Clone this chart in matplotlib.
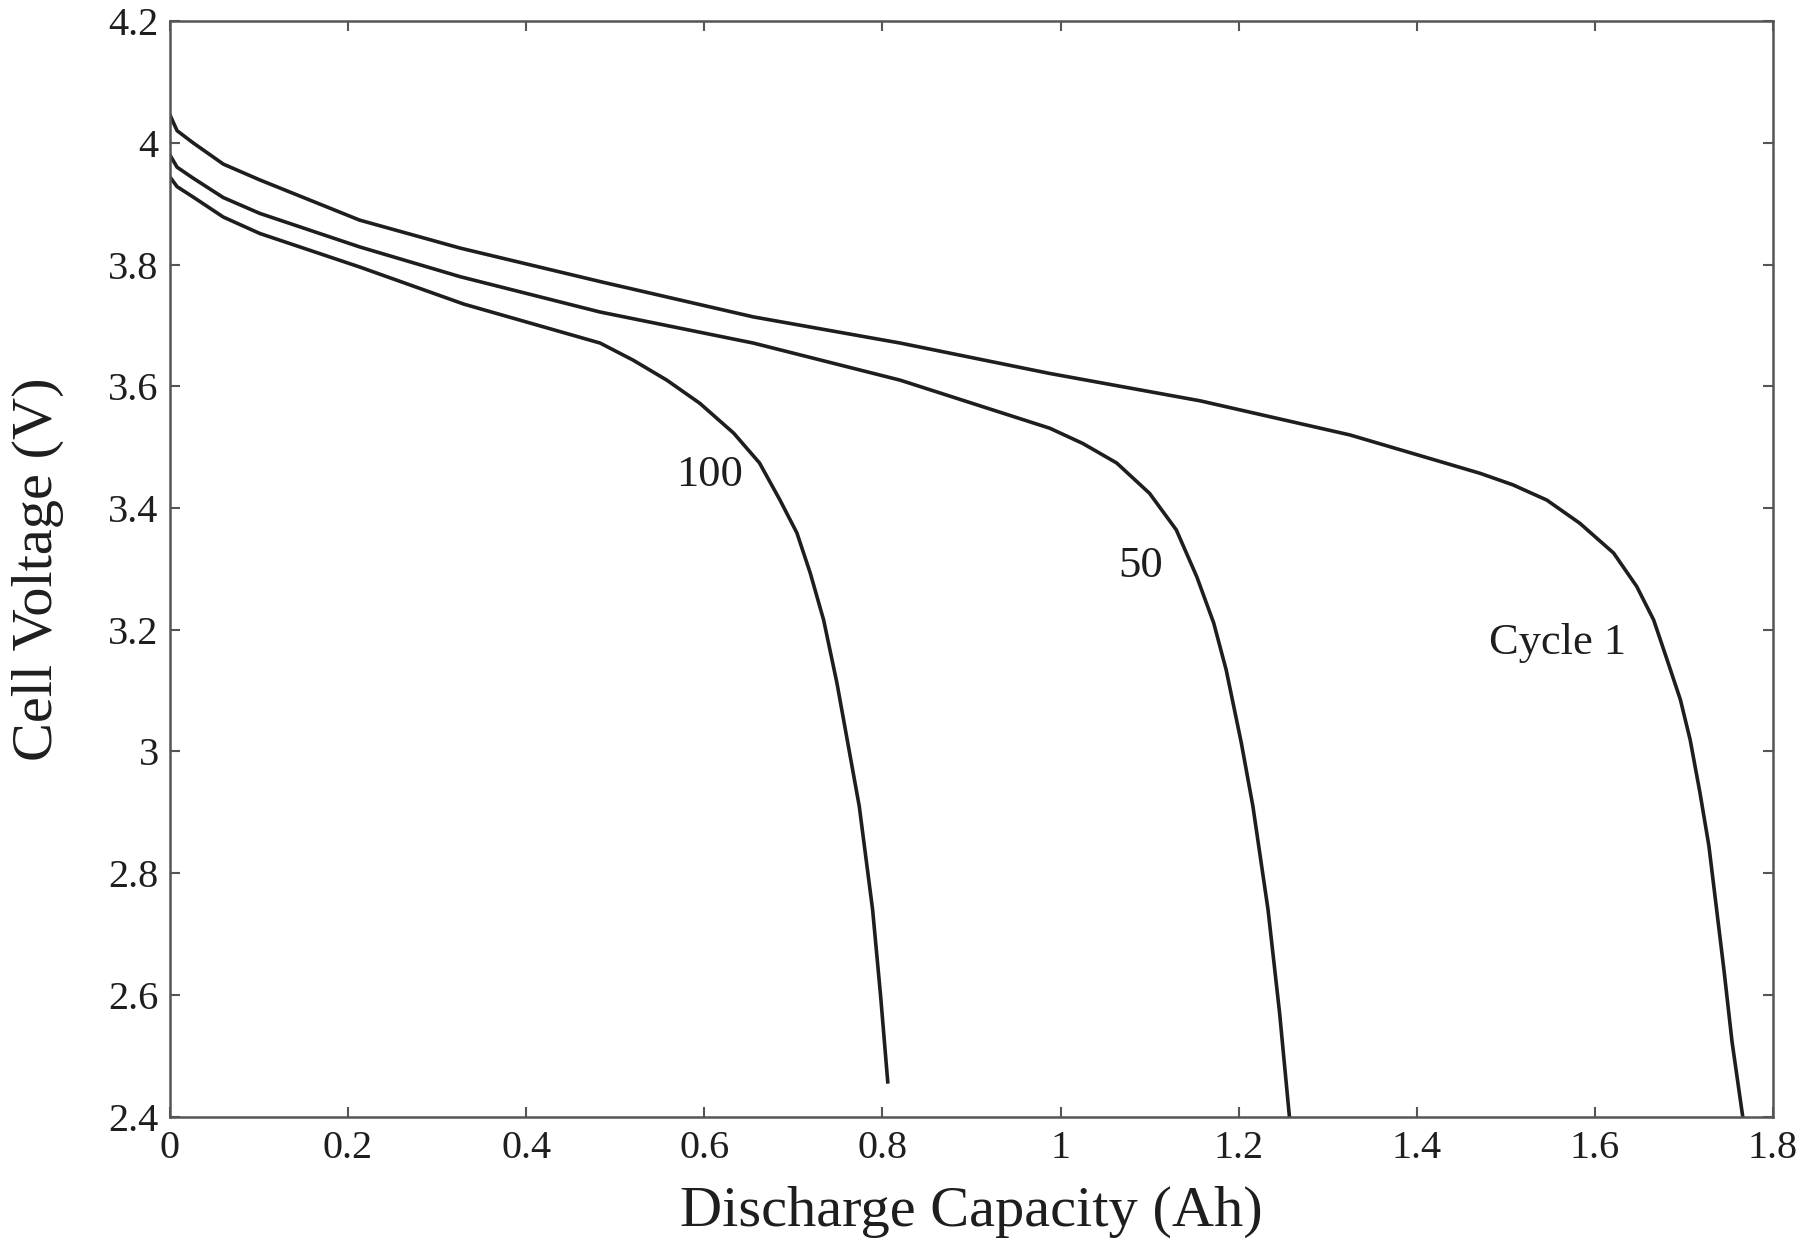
import matplotlib
matplotlib.use("Agg")
import matplotlib.pyplot as plt

plt.rcParams['font.family'] = ['Liberation Serif', 'DejaVu Serif']

# discharge curves (capacity in Ah, voltage in V)
cap_cycle1 = [0.0, 0.008, 0.026, 0.060, 0.101, 0.213, 0.326, 0.486, 0.655, 0.820,
              0.988, 1.157, 1.325, 1.471, 1.508, 1.546, 1.583, 1.621, 1.647,
              1.666, 1.681, 1.696, 1.707, 1.718, 1.728, 1.745, 1.754, 1.766]
volt_cycle1 = [4.046, 4.020, 4.000, 3.965, 3.939, 3.873, 3.827, 3.771, 3.714, 3.671,
               3.621, 3.576, 3.520, 3.457, 3.438, 3.413, 3.375, 3.326, 3.271,
               3.216, 3.151, 3.085, 3.019, 2.932, 2.845, 2.640, 2.523, 2.400]

cap_cycle50 = [0.0, 0.008, 0.026, 0.060, 0.101, 0.213, 0.326, 0.483, 0.655, 0.820,
               0.988, 1.025, 1.063, 1.100, 1.130, 1.153, 1.172, 1.186, 1.203,
               1.216, 1.233, 1.246, 1.257]
volt_cycle50 = [3.980, 3.960, 3.942, 3.910, 3.884, 3.829, 3.780, 3.722, 3.671, 3.610,
                3.531, 3.506, 3.474, 3.424, 3.364, 3.287, 3.211, 3.134, 3.014,
                2.910, 2.740, 2.570, 2.400]

cap_cycle100 = [0.0, 0.008, 0.026, 0.060, 0.101, 0.213, 0.330, 0.483, 0.520, 0.558,
                0.595, 0.633, 0.662, 0.685, 0.704, 0.719, 0.734, 0.749, 0.774,
                0.789, 0.798, 0.806]
volt_cycle100 = [3.944, 3.928, 3.911, 3.878, 3.851, 3.796, 3.735, 3.671, 3.643, 3.610,
                 3.572, 3.523, 3.474, 3.413, 3.359, 3.293, 3.216, 3.112, 2.910,
                 2.740, 2.598, 2.457]

labels = ['Cycle 1', '50', '100']
label_pos = [(1.558, 3.178), (1.090, 3.304), (0.606, 3.454)]

xticks = [0, 0.2, 0.4, 0.6, 0.8, 1, 1.2, 1.4, 1.6, 1.8]
xticklabels = ['0', '0.2', '0.4', '0.6', '0.8', '1', '1.2', '1.4', '1.6', '1.8']
yticks = [2.4, 2.6, 2.8, 3, 3.2, 3.4, 3.6, 3.8, 4, 4.2]
yticklabels = ['2.4', '2.6', '2.8', '3', '3.2', '3.4', '3.6', '3.8', '4', '4.2']

fig = plt.figure(figsize=(18, 12.42), dpi=100)
ax = fig.add_axes([0.0944, 0.101, 0.8906, 0.882])

line_kw = dict(color='#1e1e1e', linewidth=2.6, solid_joinstyle='round')
ax.plot(cap_cycle1, volt_cycle1, **line_kw)
ax.plot(cap_cycle50, volt_cycle50, **line_kw)
ax.plot(cap_cycle100, volt_cycle100, **line_kw)

for txt, (lx, ly) in zip(labels, label_pos):
    ax.text(lx, ly, txt, fontsize=32, ha='center', va='center', color='#1e1e1e')

ax.set_xlim(0, 1.8)
ax.set_ylim(2.4, 4.2)
ax.set_xticks(xticks)
ax.set_xticklabels(xticklabels)
ax.set_yticks(yticks)
ax.set_yticklabels(yticklabels)

ax.tick_params(direction='in', length=7, width=1.5, color='#555555',
               labelsize=29, top=True, right=True, labelcolor='#1e1e1e')
ax.tick_params(axis='x', pad=10)
ax.tick_params(axis='y', pad=8)
for sp in ax.spines.values():
    sp.set_color('#555555')
    sp.set_linewidth(1.8)

ax.set_xlabel('Discharge Capacity (Ah)', fontsize=42, labelpad=13, color='#1e1e1e')
ax.set_ylabel('Cell Voltage (V)', fontsize=42, labelpad=32, color='#1e1e1e')

fig.savefig('out.png', dpi=100, facecolor='white')
